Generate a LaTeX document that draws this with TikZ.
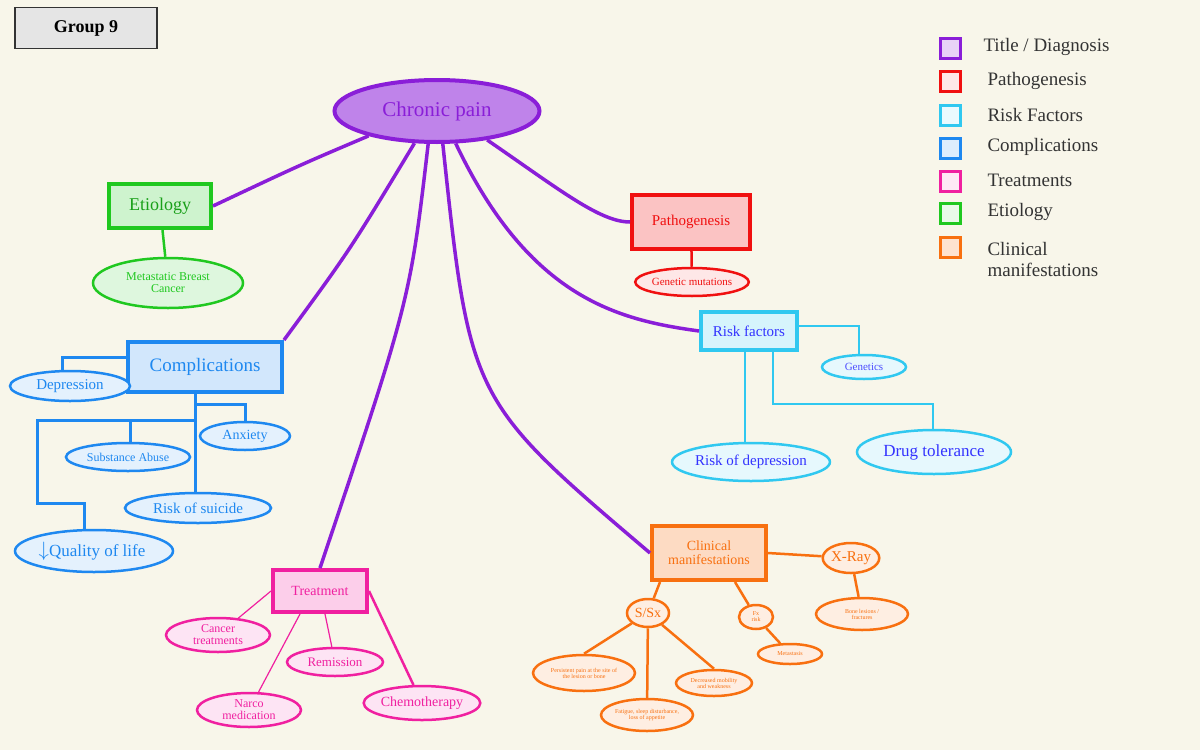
\documentclass[tikz,border=0pt]{standalone}
\usepackage{fontspec}
\setmainfont{Liberation Serif}
\begin{document}
\begin{tikzpicture}[x=1pt,y=-1pt,
 purp/.style={draw=cpurp,line width=3.5pt},
 bx/.style={draw=#1,line width=4pt,inner sep=0pt,align=center,text=#1},
 el/.style={ellipse,draw=#1,line width=2.5pt,inner sep=0pt,align=center,text=#1},
 ln/.style={draw=#1,line width=2.5pt},
 lg/.style={draw=#1,line width=3pt,minimum size=20pt,inner sep=0pt},
 lt/.style={anchor=west,font=\fontsize{19}{21}\selectfont,align=left,text=black!80}]
\usetikzlibrary{shapes.geometric}
\definecolor{bg}{HTML}{F8F6EA}
\definecolor{cpurp}{HTML}{8A1ED8}
\definecolor{cred}{HTML}{F01010}
\definecolor{ccyan}{HTML}{30C8F0}
\definecolor{cblue}{HTML}{1E88F0}
\definecolor{cpink}{HTML}{F020A0}
\definecolor{cgreen}{HTML}{20C820}
\definecolor{corange}{HTML}{F87010}
\fill[bg] (0,0) rectangle (1200,750);
\useasboundingbox (0,0) rectangle (1200,750);
\tikzset{fs/.style={font=\fontsize{#1}{#1}\selectfont}}
% group
\node[draw=black!80,line width=1.5pt,fill=black!10,minimum width=142pt,minimum height=41pt,fs=18] (g) at (86,28) {\textbf{Group 9}};
% center
\node[el=cpurp,line width=4pt,fill=cpurp!55,minimum width=205pt,minimum height=62pt,fs=21] (cp) at (437,111) {Chronic pain};
% etiology
\node[bx=cgreen,fill=cgreen!22,minimum width=102pt,minimum height=44pt,fs=18,text=cgreen!80!black] (et) at (160,206) {Etiology};
\node[el=cgreen,fill=cgreen!15,minimum width=150pt,minimum height=50pt,fs=12] (mb) at (168,283) {Metastatic Breast\\Cancer};
\draw[ln=cgreen] (et) -- (mb);
% pathogenesis
\node[bx=cred,fill=cred!25,minimum width=118pt,minimum height=54pt,fs=15] (pa) at (691,222) {Pathogenesis};
\node[el=cred,fill=cred!10,minimum width=112pt,minimum height=28pt,fs=11] (gm) at (692,282) {Genetic mutations};
\draw[ln=cred] (pa) -- (gm);
% risk factors
\node[bx=ccyan,fill=ccyan!20,minimum width=96pt,minimum height=38pt,fs=15,text=blue!80] (rf) at (749,331) {Risk factors};
\node[el=ccyan,fill=ccyan!12,minimum width=84pt,minimum height=24pt,fs=11,text=blue!70] (ge) at (864,367) {Genetics};
\node[el=ccyan,fill=ccyan!12,minimum width=148pt,minimum height=38pt,fs=15,text=blue!80] (rd) at (751,462) {Risk of depression};
\node[el=ccyan,fill=ccyan!12,minimum width=154pt,minimum height=44pt,fs=17,text=blue!80] (dt) at (934,452) {Drug tolerance};
\draw[ln=ccyan,line width=2pt] (rf.east|-0,326) -- (859,326) -- (ge.north-|859,0);
\draw[ln=ccyan] (745,350) -- (rd.north-|745,0);
\draw[ln=ccyan] (773,350) -- (773,404) -- (933,404) -- (dt.north-|933,0);
% complications
\node[bx=cblue,fill=cblue!20,minimum width=154pt,minimum height=50pt,fs=19] (co) at (205,367) {Complications};
\node[el=cblue,fill=cblue!12,minimum width=120pt,minimum height=30pt,fs=15] (de) at (70,386) {Depression};
\node[el=cblue,fill=cblue!12,minimum width=90pt,minimum height=28pt,fs=14] (an) at (245,436) {Anxiety};
\node[el=cblue,fill=cblue!12,minimum width=124pt,minimum height=28pt,fs=12] (sa) at (128,457) {Substance Abuse};
\node[el=cblue,fill=cblue!12,minimum width=146pt,minimum height=30pt,fs=15] (rs) at (198,508) {Risk of suicide};
\node[el=cblue,fill=cblue!12,minimum width=158pt,minimum height=42pt,fs=17] (ql) at (94,551) {\hspace*{-4pt}{\fontsize{22}{22}\selectfont$\downarrow$}Quality of life};
\draw[ln=cblue,line width=3pt] (co.west|-0,357) -- (62,357) -- (de.north-|62,0);
\draw[ln=cblue,line width=3pt] (195,392) -- (rs.north-|195,0);
\draw[ln=cblue,line width=3pt] (195,404) -- (245,404) -- (an.north);
\draw[ln=cblue,line width=3pt] (195,420) -- (37,420) -- (37,503) -- (84,503) -- (ql.north-|84,0);
\draw[ln=cblue,line width=3pt] (130,420) -- (sa.north-|130,0);
% treatment
\node[bx=cpink,fill=cpink!22,minimum width=94pt,minimum height=42pt,fs=14] (tr) at (320,591) {Treatment};
\node[el=cpink,fill=cpink!12,minimum width=104pt,minimum height=34pt,fs=12] (ct) at (218,635) {Cancer\\treatments};
\node[el=cpink,fill=cpink!12,minimum width=96pt,minimum height=28pt,fs=13] (re) at (335,662) {Remission};
\node[el=cpink,fill=cpink!12,minimum width=104pt,minimum height=34pt,fs=12] (nm) at (249,710) {Narco\\medication};
\node[el=cpink,fill=cpink!12,minimum width=106pt,minimum height=34pt,fs=14] (ch) at (422,703) {Chemotherapy};
\draw[line width=1.2pt,cpink] (tr.west) -- (ct);
\draw[line width=1.2pt,cpink] (tr.south-|325,0) -- (re);
\draw[line width=1.2pt,cpink] (tr.south-|300,0) -- (nm);
\draw[line width=2.5pt,cpink] (tr.east) -- (ch);
% clinical
\node[bx=corange,fill=corange!25,minimum width=114pt,minimum height=54pt,fs=14] (cm) at (709,553) {Clinical\\manifestations};
\node[el=corange,fill=corange!12,minimum width=52pt,minimum height=30pt,fs=15] (xr) at (851,558) {X-Ray};
\node[el=corange,fill=corange!12,minimum width=92pt,minimum height=32pt,fs=6] (xc) at (862,614) {Bone lesions /\\ fractures};
\node[el=corange,fill=corange!12,minimum width=42pt,minimum height=28pt,fs=14] (ss) at (648,613) {S/Sx};
\node[el=corange,fill=corange!12,minimum width=102pt,minimum height=36pt,fs=6] (s1) at (584,673) {Persistent pain at the site of\\the lesion or bone};
\node[el=corange,fill=corange!12,minimum width=92pt,minimum height=32pt,fs=6] (s2) at (647,715) {Fatigue, sleep disturbance,\\loss of appetite};
\node[el=corange,fill=corange!12,minimum width=76pt,minimum height=26pt,fs=6] (s3) at (714,683) {Decreased mobility\\and weakness};
\node[el=corange,fill=corange!12,minimum width=34pt,minimum height=24pt,fs=6] (fx) at (756,617) {Fx\\risk};
\node[el=corange,fill=corange!12,minimum width=64pt,minimum height=20pt,fs=6] (mt) at (790,654) {Metastasis};
\draw[ln=corange] (cm.east) -- (xr);
\draw[ln=corange] (xr) -- (xc);
\draw[ln=corange] (cm.south-|660,0) -- (ss);
\draw[ln=corange] (cm.south-|735,0) -- (fx);
\draw[ln=corange] (fx) -- (mt);
\draw[ln=corange] (ss) -- (s1.north);
\draw[ln=corange] (ss) -- (s2);
\draw[ln=corange] (ss) -- (s3.north);
% purple connectors
\draw[purp] (cp.200) .. controls (300,165) .. (et.east);
\draw[purp] (cp.235) .. controls (350,250) .. (co.north east);
\draw[purp] (cp.255) .. controls (410,300) .. (tr.north);
\draw[purp] (cp.280) .. controls (470,400) .. (cm.west);
\draw[purp] (cp.300) .. controls (530,300) and (620,320) .. (rf.west);
\draw[purp] (cp.330) .. controls (560,190) and (600,222) .. (pa.west);
% legend
\node[lg=cpurp,fill=cpurp!20] (l1) at (950,48) {};
\node[lg=cred,fill=cred!10] (l2) at (950,81) {};
\node[lg=ccyan,fill=ccyan!10] (l3) at (950,115) {};
\node[lg=cblue,fill=cblue!15] (l4) at (950,148) {};
\node[lg=cpink,fill=cpink!10] (l5) at (950,181) {};
\node[lg=cgreen,fill=cgreen!10] (l6) at (950,213) {};
\node[lg=corange,fill=corange!20] (l7) at (950,247) {};
\node[lt] at (980,47) {Title / Diagnosis};
\node[lt] at (984,81) {Pathogenesis};
\node[lt] at (984,115) {Risk Factors};
\node[lt] at (984,147) {Complications};
\node[lt] at (984,180) {Treatments};
\node[lt] at (984,212) {Etiology};
\node[lt] at (984,259) {Clinical\\manifestations};
\end{tikzpicture}
\end{document}
